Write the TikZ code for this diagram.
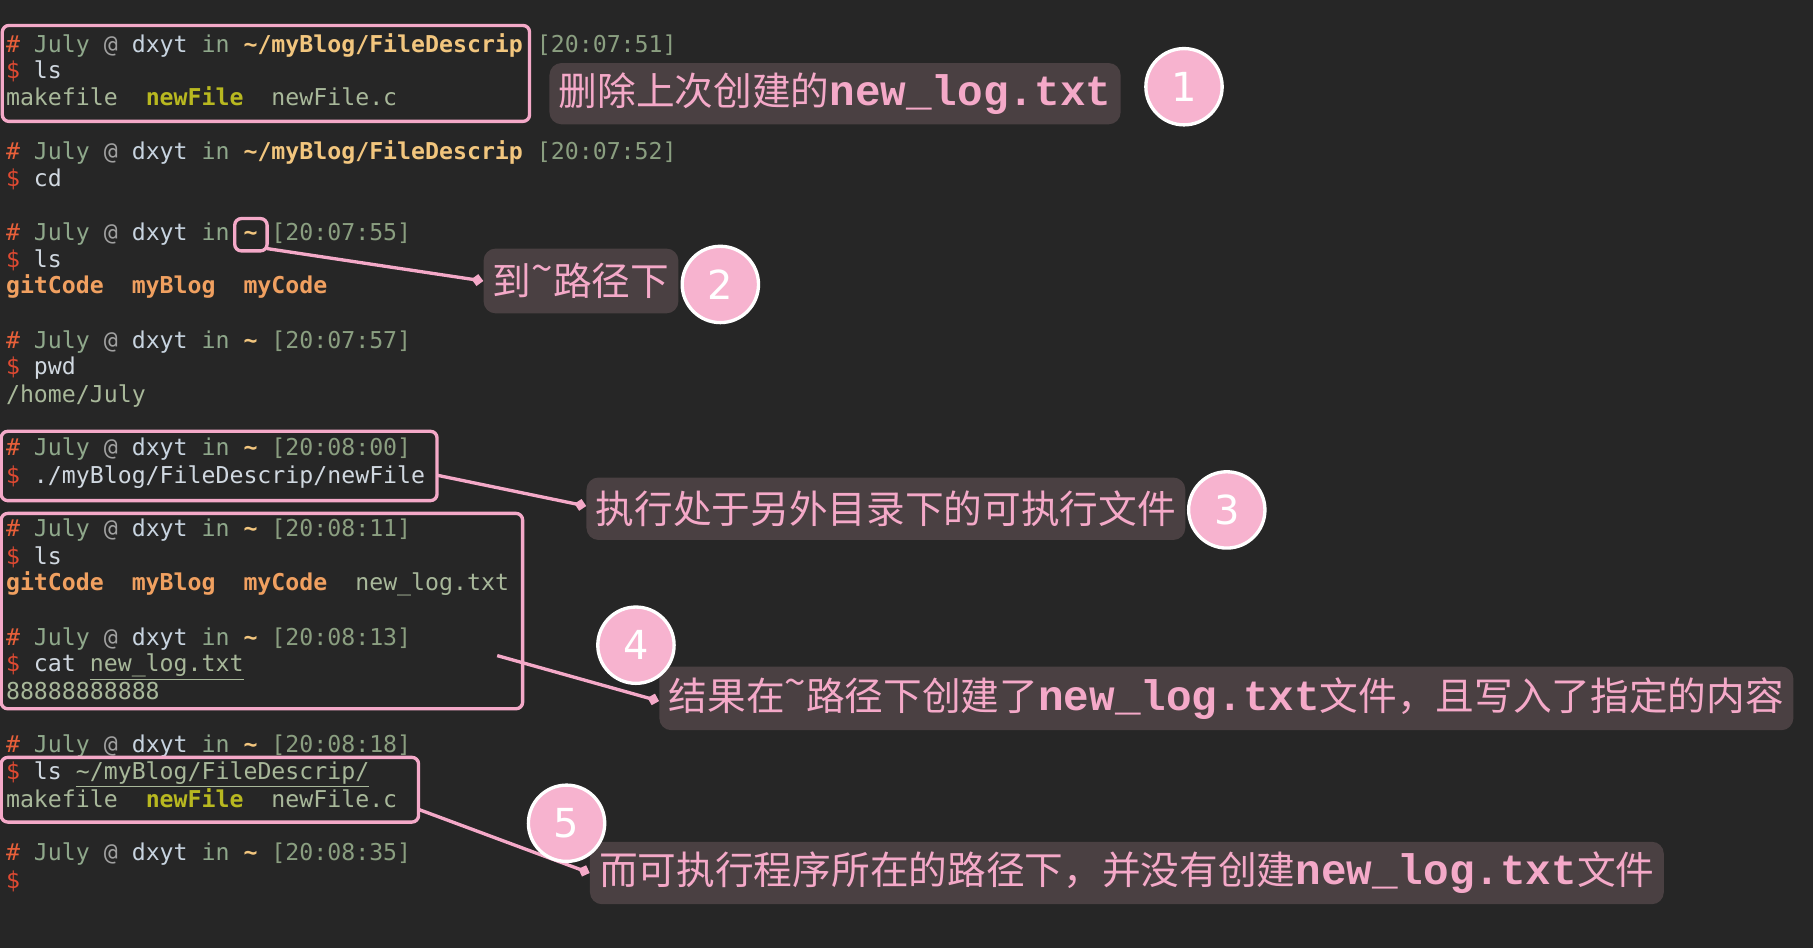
\documentclass[tikz,border=0pt]{standalone}
\usetikzlibrary{arrows.meta}
\usepackage{fontspec}
\setmonofont{DejaVu Sans Mono}
\newfontfamily\cjk{Noto Sans CJK SC}
\newfontfamily\latb{Liberation Mono Bold}
\newfontfamily\numf{DejaVu Sans}
\definecolor{bg}{HTML}{262626}
\definecolor{pk}{HTML}{F4A9C8}
\definecolor{hs}{HTML}{E8603A}
\definecolor{dl}{HTML}{E04A32}
\definecolor{us}{HTML}{8FA88B}
\definecolor{at}{HTML}{A0A0A0}
\definecolor{ho}{HTML}{C8D4E0}
\definecolor{pa}{HTML}{F2C67E}
\definecolor{ts}{HTML}{8A9E80}
\definecolor{cm}{HTML}{D0D8E0}
\definecolor{ou}{HTML}{A8B89A}
\definecolor{nf}{HTML}{B8B820}
\definecolor{dr}{HTML}{F0A060}
\definecolor{ab}{HTML}{4A4042}
\definecolor{ci}{HTML}{F7B3CF}
\newcommand\Prm[2]{\textcolor{hs}{\#} \textcolor{us}{July} \textcolor{at}{@} \textcolor{ho}{dxyt} \textcolor{us}{in} \textcolor{pa}{\bfseries #1} \textcolor{ts}{[#2]}}
\newcommand\Dl{\textcolor{dl}{\$}}
\newcommand\LT{{\latb\fontsize{32}{34}\selectfont new\_log.txt}}
\newcommand\TL{\raisebox{0.35em}{\textasciitilde}}
\newcommand\SP{\ \ }
\begin{document}
\begin{tikzpicture}[x=0.867pt,y=-0.867pt,
 ln/.style={anchor=base west,inner sep=0,font=\ttfamily\fontsize{17.4}{20}\selectfont,text=cm},
 pbox/.style={draw=pk,line width=2.5pt,rounded corners=5pt},
 conn/.style={draw=pk,line width=2.5pt,-{Diamond[length=9pt,width=9pt]}},
 note/.style={fill=ab,rounded corners=9pt,text=pk,font=\cjk\fontsize{29}{32}\selectfont,inner xsep=7pt,inner ysep=4pt,anchor=west},
 num/.style={circle,fill=ci,draw=white,line width=2.5pt,minimum size=66*0.867pt,text=white,font=\numf\fontsize{30}{34}\selectfont}]
\fill[bg] (0,0) rectangle (1568,820);
\useasboundingbox (0,0) rectangle (1568,820);
\node[ln] (l1) at (5,45) {\Prm{\textasciitilde/myBlog/FileDescrip}{20:07:51}};
\node[ln] (l2) at (5,68) {\Dl{} ls};
\node[ln] (l3) at (5,91) {\textcolor{ou}{makefile}\SP\textcolor{nf}{\bfseries newFile}\SP\textcolor{ou}{newFile.c}};
\node[ln] (l4) at (5,138) {\Prm{\textasciitilde/myBlog/FileDescrip}{20:07:52}};
\node[ln] (l5) at (5,161) {\Dl{} cd};
\node[ln] (l6) at (5,208) {\Prm{\textasciitilde}{20:07:55}};
\node[ln] (l7) at (5,231) {\Dl{} ls};
\node[ln] (l8) at (5,254) {\textcolor{dr}{\bfseries gitCode\SP myBlog\SP myCode}};
\node[ln] (l9) at (5,301) {\Prm{\textasciitilde}{20:07:57}};
\node[ln] (l10) at (5,324) {\Dl{} pwd};
\node[ln] (l11) at (5,348) {\textcolor{ou}{/home/July}};
\node[ln] (l12) at (5,394) {\Prm{\textasciitilde}{20:08:00}};
\node[ln] (l13) at (5,418) {\Dl{} ./myBlog/FileDescrip/newFile};
\node[ln] (l14) at (5,464) {\Prm{\textasciitilde}{20:08:11}};
\node[ln] (l15) at (5,488) {\Dl{} ls};
\node[ln] (l16) at (5,511) {\textcolor{dr}{\bfseries gitCode\SP myBlog\SP myCode}\SP\textcolor{ou}{new\_log.txt}};
\node[ln] (l17) at (5,558) {\Prm{\textasciitilde}{20:08:13}};
\node[ln] (l18) at (5,581) {\Dl{} cat \textcolor{ou}{\underline{new\_log.txt}}};
\node[ln] (l19) at (5,605) {\textcolor{ou}{88888888888}};
\node[ln] (l20) at (5,651) {\Prm{\textasciitilde}{20:08:18}};
\node[ln] (l21) at (5,674) {\Dl{} ls \textcolor{ou}{\underline{\textasciitilde/myBlog/FileDescrip/}}};
\node[ln] (l22) at (5,698) {\textcolor{ou}{makefile}\SP\textcolor{nf}{\bfseries newFile}\SP\textcolor{ou}{newFile.c}};
\node[ln] (l23) at (5,744) {\Prm{\textasciitilde}{20:08:35}};
\node[ln] (l24) at (5,768) {\Dl};
% pink boxes
\draw[pbox] (2,22) rectangle (458,105);
\draw[pbox] (203,189) rectangle (231,217);
\draw[pbox] (1,373) rectangle (378,433);
\draw[pbox] (1,444) rectangle (452,613);
\draw[pbox] (1,655) rectangle (362,711);
\coordinate (c2) at (231,215);
\coordinate (c3) at (378,411);
\coordinate (c4) at (430,567);
\coordinate (c5) at (362,700);
% notes
\node[note,minimum height=53*0.867pt] (n1) at (475,81) {删除上次创建的\LT};
\node[note,minimum height=56*0.867pt] (n2) at (418,243) {到\TL 路径下};
\node[note,minimum height=54*0.867pt] (n3) at (507,440) {执行处于另外目录下的可执行文件};
\node[note,minimum height=55*0.867pt] (n4) at (570,604) {结果在\TL 路径下创建了\LT 文件，且写入了指定的内容};
\node[note,minimum height=54*0.867pt] (n5) at (510,755) {而可执行程序所在的路径下，并没有创建\LT 文件};
\draw[conn] (c2) -- (n2.west);
\draw[conn] (c3) -- ([yshift=2pt]n3.west);
\draw[conn] (c4) -- ([yshift=-2pt]n4.west);
\draw[conn] (c5) -- (n5.west);
\node[num] (k1) at (1024,75) {1};
\node[num] (k2) at (623,246) {2};
\node[num] (k3) at (1061,441) {3};
\node[num] (k4) at (550,558) {4};
\node[num] (k5) at (490,712) {5};
\end{tikzpicture}
\end{document}
